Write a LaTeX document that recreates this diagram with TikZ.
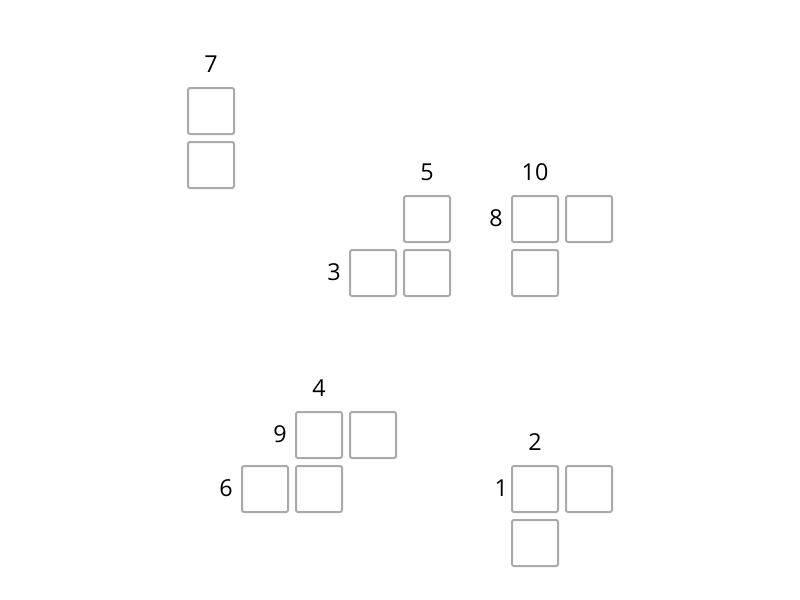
\documentclass[tikz,border=0pt]{standalone}
\usepackage{fontspec}
\setmainfont{Open Sans}
\usetikzlibrary{positioning}
\definecolor{cellgray}{RGB}{170,170,170}
\tikzset{
  cell/.style={draw=cellgray, line width=1.5pt, rounded corners=1.5pt, minimum size=34.5pt, inner sep=0pt},
  clue/.style={inner sep=0pt, font=\fontsize{17.5}{20}\selectfont},
}
\begin{document}
\begin{tikzpicture}[x=0.75pt, y=-0.75pt]
    \useasboundingbox (0,0) rectangle (800,600);
    % cells, named c<column><row>
    \foreach \c/\r in {0/0,0/1,4/2,3/3,4/3,6/2,7/2,6/3,2/6,3/6,1/7,2/7,6/7,7/7,6/8}
      \node[cell] (c\c\r) at (211+54*\c, 111+54*\r) {};
    % clue numbers
    \node[clue, above=10.5pt of c00] (n7) {7};
    \node[clue, above=10.5pt of c42] (n5) {5};
    \node[clue, left=6pt of c33, yshift=1pt] (n3) {3};
    \node[clue, above=10.5pt of c62] (n10) {10};
    \node[clue, left=6pt of c62, yshift=1pt] (n8) {8};
    \node[clue, above=10.5pt of c26] (n4) {4};
    \node[clue, left=6pt of c26, yshift=1pt] (n9) {9};
    \node[clue, left=6pt of c17, yshift=1pt] (n6) {6};
    \node[clue, above=10.5pt of c67] (n2) {2};
    \node[clue, left=2pt of c67, yshift=1pt] (n1) {1};
\end{tikzpicture}
\end{document}
